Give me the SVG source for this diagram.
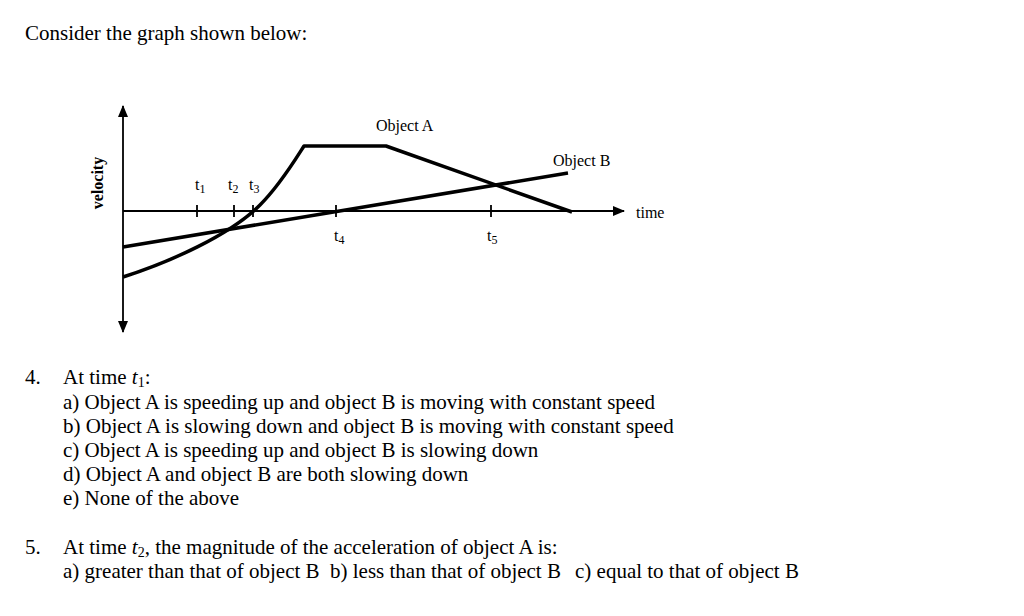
<svg xmlns="http://www.w3.org/2000/svg" width="1024" height="616" viewBox="0 0 1024 616">
<style>
.t{font-family:"Liberation Serif",serif;font-size:21px;fill:#000}
.g{font-family:"Liberation Serif",serif;font-size:16px;fill:#000}
.c{fill:none;stroke:#000;stroke-width:3.5;stroke-linejoin:round}
.ax{stroke:#000;stroke-width:1.8;fill:none}
</style>
<defs><marker id="ar" markerWidth="12" markerHeight="10" refX="11" refY="5" orient="auto" markerUnits="userSpaceOnUse"><path d="M0,0L12,5L0,10z" fill="#000"/></marker></defs>
<rect width="1024" height="616" fill="#fff"/>
<text class="t" x="25" y="40">Consider the graph shown below:</text>
<g id="axes">
<line class="ax" x1="123" y1="120" x2="123" y2="106" marker-end="url(#ar)"/>
<line class="ax" x1="123" y1="120" x2="123" y2="332" marker-end="url(#ar)"/>
<line class="ax" x1="123" y1="211" x2="624" y2="211" marker-end="url(#ar)"/>
<path class="ax" d="M197,205v12M234,205v12M253,205v12M336,205v12M491,205v12"/>
<text class="g" x="103" y="183" font-weight="bold" font-size="12" text-anchor="middle" transform="rotate(-90 103 183)">velocity</text>
<text class="g" x="636" y="218">time</text>
</g>
<g id="labels" class="g">
<text x="195" y="190">t<tspan font-size="12" dy="3">1</tspan></text>
<text x="228" y="190">t<tspan font-size="12" dy="3">2</tspan></text>
<text x="249" y="190">t<tspan font-size="12" dy="3">3</tspan></text>
<text x="334" y="241">t<tspan font-size="12" dy="3">4</tspan></text>
<text x="487" y="241">t<tspan font-size="12" dy="3">5</tspan></text>
</g>
<g id="objectA"><path class="c" d="M123,277 C170,262 230,235 260,205 C280,185 295,160 304,146 L386,146 L572,212"/><text class="g" x="376" y="131">Object A</text></g>
<g id="objectB"><path class="c" d="M123,247 L568,173"/><text class="g" x="553" y="166">Object B</text></g>
<g id="q" class="t">
<text x="25" y="384">4.</text><text x="63" y="384">At time <tspan font-style="italic">t</tspan><tspan font-size="14" dy="3">1</tspan><tspan dy="-3">:</tspan></text>
<text x="63" y="409">a) Object A is speeding up and object B is moving with constant speed</text>
<text x="63" y="433">b) Object A is slowing down and object B is moving with constant speed</text>
<text x="63" y="457">c) Object A is speeding up and object B is slowing down</text>
<text x="63" y="481">d) Object A and object B are both slowing down</text>
<text x="63" y="505">e) None of the above</text>
<text x="25" y="554">5.</text><text x="63" y="554">At time <tspan font-style="italic">t</tspan><tspan font-size="14" dy="3">2</tspan><tspan dy="-3">, the magnitude of the acceleration of object A is:</tspan></text>
<text x="63" y="578">a) greater than that of object B</text>
<text x="330" y="578">b) less than that of object B</text>
<text x="575" y="578">c) equal to that of object B</text>
</g>
</svg>
